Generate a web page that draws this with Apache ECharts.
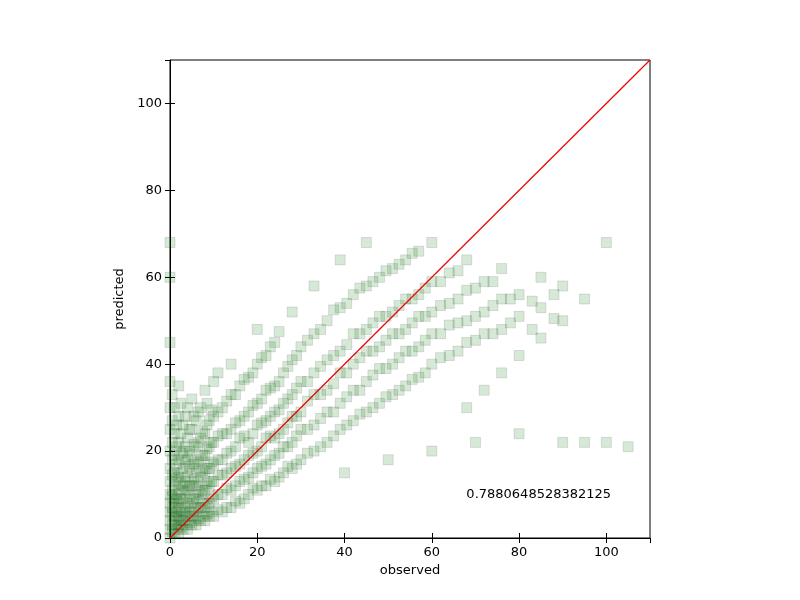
<!DOCTYPE html>
<html><head><meta charset="utf-8">
<script src="https://cdn.jsdelivr.net/npm/echarts@6/dist/echarts.min.js"></script>
<style>body{margin:0}#c{width:800px;height:600px}</style></head>
<body><div id="c"></div>
<script>
const obsValues = [0,1,2,3,4,5,6,7,8,9,10,12,14,16,18,20,22,24,26,28,30,33,36,39,42,45,48,51,54,57,60,64,68,72,76,80,85,90,95,100,105,40,50,60,70,80];
const predValues = [
 [0,2,4,6,8,10,13,16,20,25,30,36,45,60,68],
 [1,3,5,7,9,12,15,19,24,30],
 [1,3,5,8,11,14,18,22,28,35],
 [2,4,6,9,12,16,20,26],
 [2,5,8,11,14,18,23,30],
 [3,5,8,12,15,19,25,32],
 [3,6,9,12,16,21,27],
 [4,7,10,14,18,23,30],
 [4,7,11,15,19,24,34],
 [5,8,12,16,21,27],
 [5,9,13,17,22,28,36],
 [6,10,14.5,18,24,30],
 [7,11,16,20,25,33,40],
 [8,13,17,23,27,35],
 [10,14,19,22,29,37],
 [11,16,20,26,31,40,48],
 [12,17,23,27,34,42],
 [13,19,23,29,35,45],
 [15,21,25,31,38],
 [16,22,28,33,41,52],
 [18,25,29,36,44],
 [20,26,33,38,47,58],
 [22,29,34,41,50],
 [25,31,38,43,53,64],
 [27,34,40,47,56],
 [29,36,43,48,58,68],
 [31,39,44,51,60],
 [33,40,47,52,62],
 [35,43,48,55,64],
 [37,44,51,56,66],
 [40,47,52,59,68],
 [42,49,54,61],
 [30,45,50,57,64],
 [34,47,52,59],
 [38,48,55,62],
 [42,51,56],
 [46,53,60],
 [22,50,58],
 [22,55],
 [22,68],
 [21],
 [15],[18],[20],[22],[24]
];
const obsValues2 = [0.5,1.5,2.5,3.5,4.5,5.5,6.5,7.5,8.5,9.5,11,13,15,17,19,21,23,25,27,29,31.5,34.5,37.5,40.5,43.5,46.5,49.5,52.5,55.5,58.5,62,66,70,74,78,83,88];
const predValues2 = [
 [1.5,3,5.5,7,9.5,11,14.5,18,22,27,33],
 [2,4.5,6,8.5,10,13.5,17,21,26],
 [2.5,4,6.5,9,12.5,15,19.5,24,31],
 [3,5.5,7,10.5,13,17.5,21,28],
 [3.5,6,9.5,12,16.5,20,25],
 [4,6.5,9,13.5,17,21.5,28],
 [4.5,7,10.5,13,17.5,22,29],
 [5,8.5,11,15.5,19,24.5],
 [5.5,8,12.5,16,20.5,26,31],
 [6,9.5,13,17.5,22,29.5],
 [6.5,10,14.5,18,23.5,29,38],
 [7,11.5,15,19.5,24,31.5],
 [8.5,12,16.5,21,26.5,33],
 [9,13.5,18,23.5,28,36.5],
 [11.5,15,19.5,24,30.5,38],
 [12,16.5,21,26.5,32,41.5],
 [13.5,18,23.5,28,34.5,44],
 [14,19.5,24,29.5,36,47.5],
 [16.5,21,26.5,32,39.5],
 [17,23.5,28,34.5,42],
 [19.5,25,31.5,36,45.5],
 [21,27.5,33,39.5,48],
 [23.5,29,35.5,42,52.5],
 [26,32.5,38,44.5,54],
 [28.5,34,41.5,47,57.5],
 [30,37.5,43,49.5,59],
 [32.5,39,45.5,51,61.5],
 [34,41.5,47,53.5,63],
 [36.5,43,49.5,55,65.5],
 [38,45.5,51,57.5],
 [41.5,47,53.5,59],
 [43,49.5,55,61.5],
 [45.5,51,57.5],
 [47,53.5,59],
 [49.5,55],
 [48,54.5],
 [50.5,56]
];
const r2Label = '0.7880648528382125';
const pts = [];
obsValues.forEach((x,i)=>predValues[i].forEach(y=>pts.push([x,y])));
obsValues2.forEach((x,i)=>predValues2[i].forEach(y=>pts.push([x,y])));
const chart = echarts.init(document.getElementById('c'));
const ax = (name)=>({type:'value',min:0,max:110,interval:20,name:name,nameLocation:'middle',
  nameGap:name==='predicted'?38:25,nameTextStyle:{color:'#000',fontSize:13,fontFamily:'DejaVu Sans'},
  axisLine:{show:true,lineStyle:{color:'#000'}},axisTick:{inside:true,length:5,lineStyle:{color:'#000'}},
  axisLabel:{color:'#000',fontSize:13,fontFamily:'DejaVu Sans',showMaxLabel:false},splitLine:{show:false}});
const axTop = (pos)=>({type:'value',min:0,max:110,interval:20,position:pos,
  axisLine:{show:false},axisTick:{inside:true,length:5,lineStyle:{color:'#000'}},axisLabel:{show:false},splitLine:{show:false}});
chart.setOption({
  animation:false,
  grid:{left:170,right:150,top:60,bottom:62,show:true,borderColor:'#000',borderWidth:1},
  xAxis:[ax('observed'),axTop('top')], yAxis:[ax('predicted'),axTop('right')],
  series:[
    {type:'scatter',symbol:'rect',symbolSize:10,data:pts,
     itemStyle:{color:'rgba(0,120,0,0.2)',borderColor:'rgba(0,0,0,0.15)',borderWidth:1}},
    {type:'line',data:[[0,0],[110,110]],symbol:'none',lineStyle:{color:'#e00',width:1.2},
     markPoint:{symbol:'circle',symbolSize:0,data:[{coord:[84.5,10],label:{show:true,formatter:r2Label,color:'#000',fontSize:13,fontFamily:'DejaVu Sans'}}]}}
  ]
});
</script></body></html>
